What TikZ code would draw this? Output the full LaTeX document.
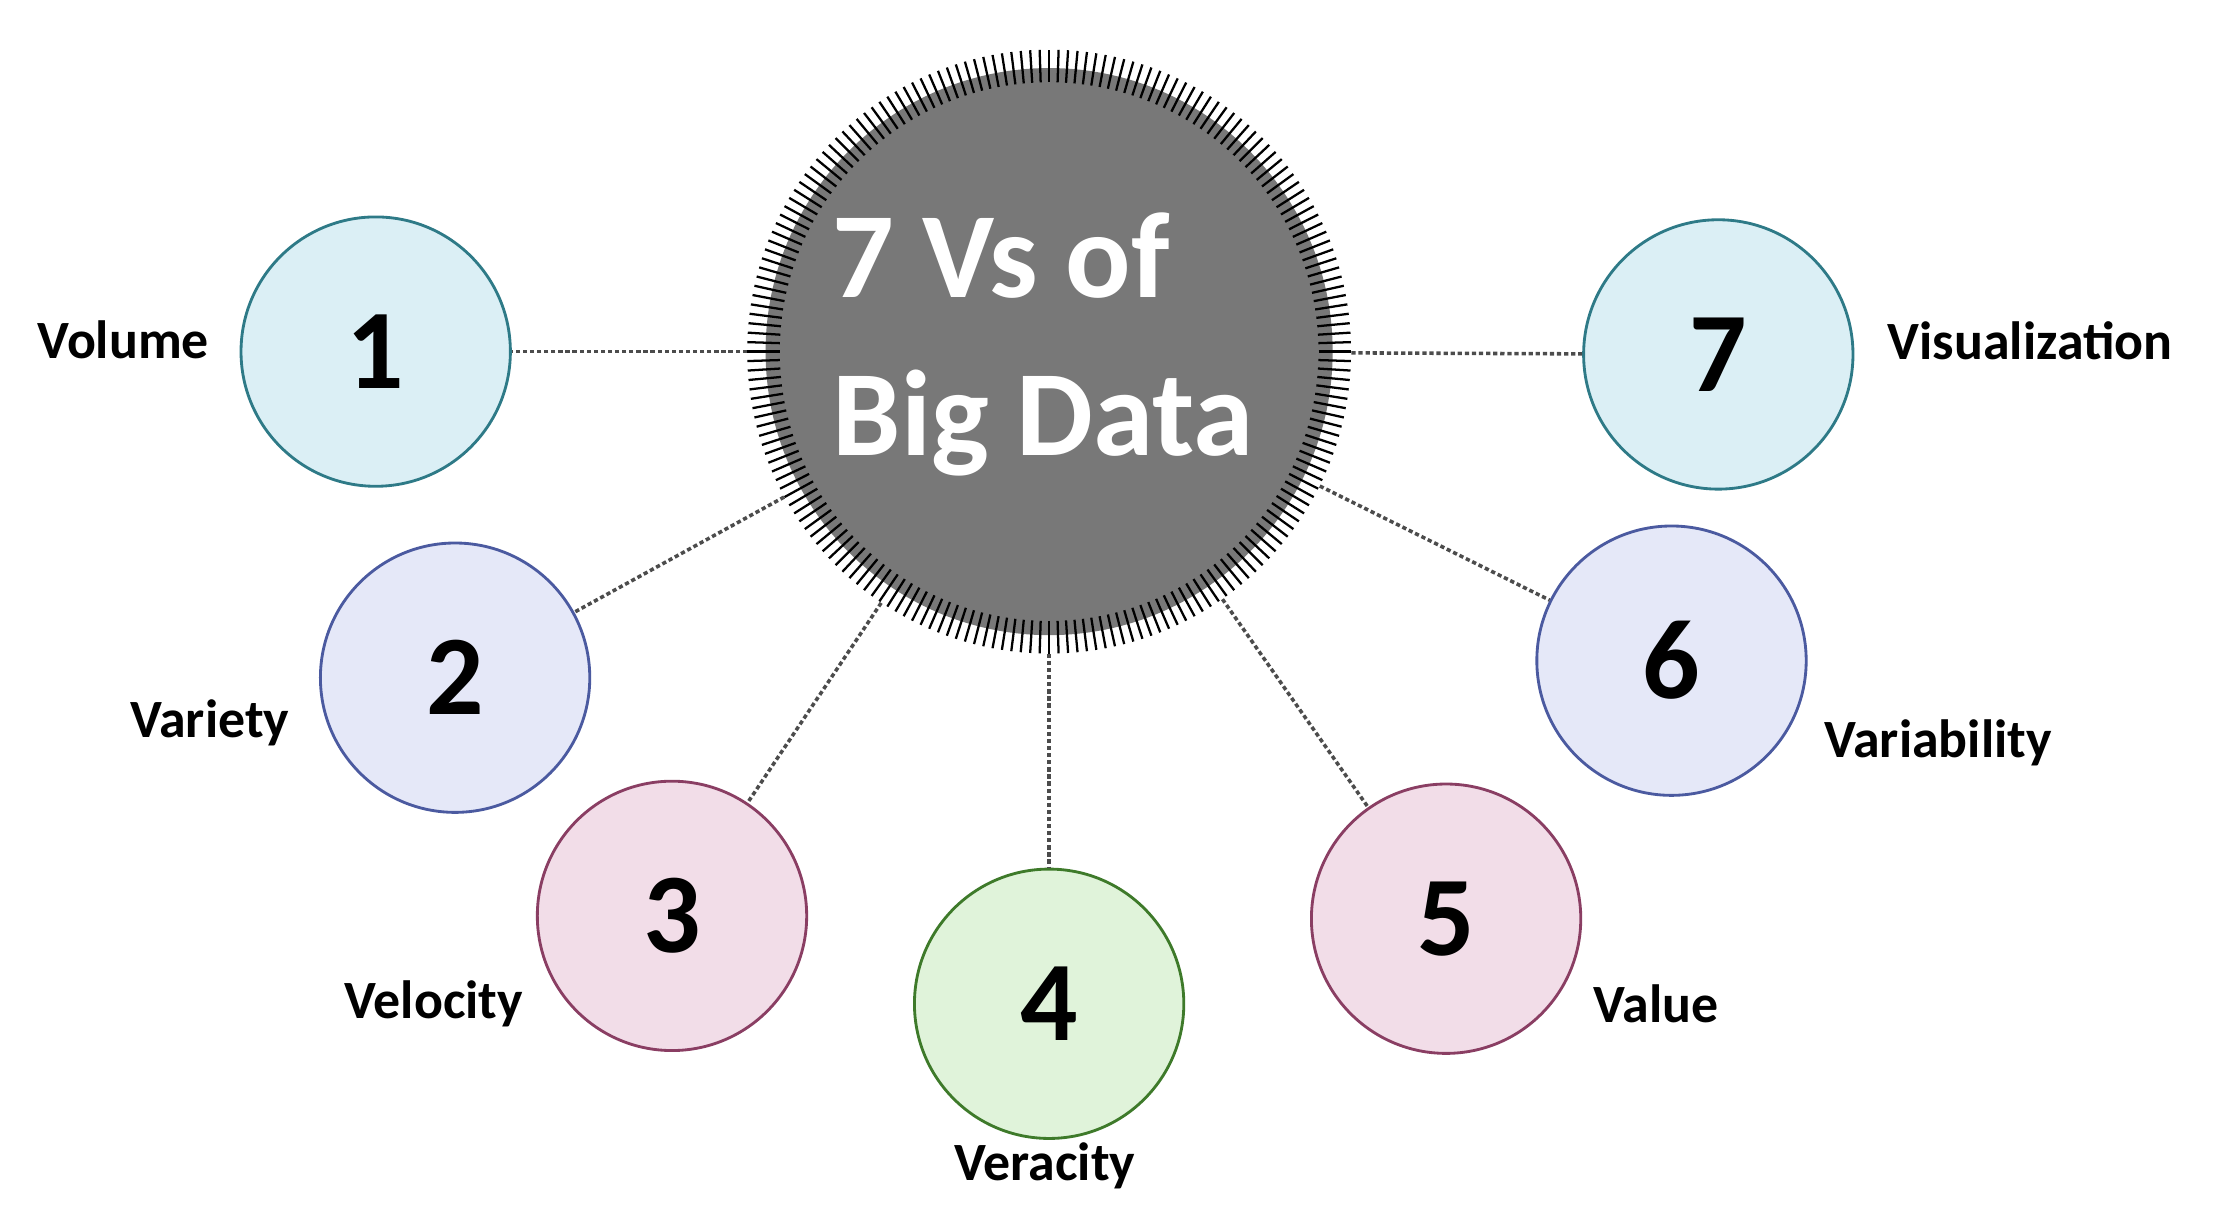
\documentclass[tikz,border=0pt]{standalone}
\usepackage{fontspec}
\setmainfont{Carlito}
\usetikzlibrary{calc}
\begin{document}
\begin{tikzpicture}[x=1pt,y=-1pt,
  vc/.style={circle,minimum size=190pt,inner sep=0pt,line width=2pt,font=\bfseries\fontsize{80}{80}\selectfont},
  cy/.style={vc,draw={rgb,255:red,46;green,122;blue,135},fill={rgb,255:red,219;green,239;blue,245}},
  lv/.style={vc,draw={rgb,255:red,75;green,90;blue,160},fill={rgb,255:red,229;green,232;blue,248}},
  pk/.style={vc,draw={rgb,255:red,138;green,62;blue,99},fill={rgb,255:red,242;green,221;blue,232}},
  gr/.style={vc,draw={rgb,255:red,62;green,122;blue,42},fill={rgb,255:red,224;green,243;blue,218}},
  lbl/.style={font=\bfseries\fontsize{38}{38}\selectfont},
  con/.style={densely dashed,line width=2.5pt,draw=black!70}]
\useasboundingbox (0,0) rectangle (1568,860);
\fill[black!53] (740,248) circle (200);
\foreach \a in {0,1.8,...,358.3} \draw[line width=1.6pt,black] ($(740,248)+(\a:190)$) -- ($(740,248)+(\a:213)$);
\node[circle,minimum size=426pt,inner sep=0pt] (c) at (740,248) {};
\node[white,align=left,anchor=west,font=\bfseries\fontsize{86}{112}\selectfont] (t) at (584,243) {7 Vs of\\Big Data};
\node[cy] (n1) at (265,248) {1};
\node[lv] (n2) at (321,478) {2};
\node[pk] (n3) at (474,646) {3};
\node[gr] (n4) at (740,708) {4};
\node[pk] (n5) at (1020,648) {5};
\node[lv] (n6) at (1179,466) {6};
\node[cy] (n7) at (1212,250) {7};
\foreach \n in {n1,n2,n3,n5,n6,n7} \draw[con] (c) -- (\n);
\draw[con] (c.south) -- (n4.north);
\node[lbl] (l1) at (87,240) {Volume};
\node[lbl] (l2) at (148,510) {Variety};
\node[lbl] (l3) at (306,708) {Velocity};
\node[lbl] (l4) at (737,822) {Veracity};
\node[lbl] (l5) at (1168,708) {Value};
\node[lbl] (l6) at (1367,524) {Variability};
\node[lbl] (l7) at (1432,240) {Visualization};
\end{tikzpicture}
\end{document}
